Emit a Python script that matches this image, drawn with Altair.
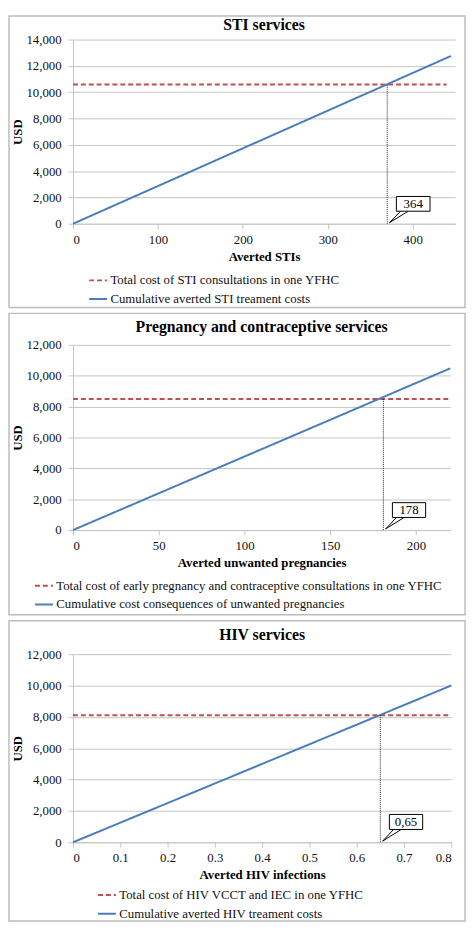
import altair as alt
import pandas as pd

FONT = "Liberation Serif"
RED = "#c0504d"
BLUE = "#4a7ebb"
GRID = "#c4c4c4"

# ---------------- data ----------------
sti_title = "STI services"
sti_xtitle = "Averted STIs"
sti_series = ["Total cost of STI consultations in one YFHC",
              "Cumulative averted STI treament costs"]
sti_cost_x = [0, 440]
sti_cost_y = [10580, 10580]
sti_cum_x = [0, 445]
sti_cum_y = [0, 12750]
sti_break_x = 370
sti_break_label = "364"
sti_xticks = [0, 100, 200, 300, 400]
sti_xmax = 450
sti_yticks = [0, 2000, 4000, 6000, 8000, 10000, 12000, 14000]

preg_title = "Pregnancy and contraceptive services"
preg_xtitle = "Averted unwanted pregnancies"
preg_series = ["Total cost of early pregnancy and contraceptive consultations in one YFHC",
               "Cumulative cost consequences of unwanted pregnancies"]
preg_cost_x = [0, 220]
preg_cost_y = [8500, 8500]
preg_cum_x = [0, 220]
preg_cum_y = [0, 10480]
preg_break_x = 181
preg_break_label = "178"
preg_xticks = [0, 50, 100, 150, 200]
preg_xmax = 220
preg_yticks = [0, 2000, 4000, 6000, 8000, 10000, 12000]

hiv_title = "HIV services"
hiv_xtitle = "Averted HIV infections"
hiv_series = ["Total cost of HIV VCCT and IEC in one YFHC",
              "Cumulative averted HIV treament costs"]
hiv_cost_x = [0, 0.8]
hiv_cost_y = [8100, 8100]
hiv_cum_x = [0, 0.8]
hiv_cum_y = [0, 10000]
hiv_break_x = 0.65
hiv_break_label = "0,65"
hiv_xticks = [0, 0.1, 0.2, 0.3, 0.4, 0.5, 0.6, 0.7, 0.8]
hiv_xmax = 0.8
hiv_yticks = [0, 2000, 4000, 6000, 8000, 10000, 12000]


def panel(title, xtitle, series, cost_x, cost_y, cum_x, cum_y, brk, brk_label,
          xticks, xmax, yticks, xfmt, w, h, frame_top, frame_bottom, legend_x, title_y):
    ymax = yticks[-1]
    lines = pd.DataFrame({
        "x": list(cost_x) + list(cum_x),
        "y": list(cost_y) + list(cum_y),
        "series": [series[0]] * len(cost_x) + [series[1]] * len(cum_x),
    })
    xs = alt.Scale(domain=[0, xmax], nice=False, zero=True)
    ys = alt.Scale(domain=[0, ymax], nice=False)
    xax = alt.Axis(values=xticks, format=xfmt, title=xtitle, grid=False,
                   labelFont=FONT, labelFontSize=13, labelColor="#111", labelOverlap=False,
                   titleFont=FONT, titleFontSize=13, titleFontWeight="bold", titleColor="#000",
                   domainColor=GRID, tickColor=GRID, tickSize=5, labelPadding=5, titlePadding=4)
    yax = alt.Axis(values=yticks, format=",.0f", title="USD", grid=True, gridColor=GRID,
                   labelFont=FONT, labelFontSize=13, labelColor="#111", labelOverlap=False,
                   titleFont=FONT, titleFontSize=13, titleFontWeight="bold", titleColor="#000",
                   domainColor=GRID, tickColor=GRID, tickSize=5, labelPadding=7, titlePadding=2)
    X = lambda f: alt.X(f, scale=xs, axis=xax)
    Y = lambda f: alt.Y(f, scale=ys, axis=yax)

    frame = alt.Chart(alt.Data(values=[{"f": 1}])).mark_rect(
        filled=False, stroke="#bcbcbc", strokeWidth=1.5
    ).encode(x=alt.value(-65), x2=alt.value(398),
             y=alt.value(frame_top), y2=alt.value(frame_bottom))

    ttl = alt.Chart(alt.Data(values=[{"f": 1}])).mark_text(
        font=FONT, fontSize=16, fontWeight="bold", color="#000", baseline="middle"
    ).encode(x=alt.value(w / 2), y=alt.value(title_y), text=alt.value(title))

    leg = alt.Legend(orient="none", legendX=legend_x, legendY=234, title=None,
                     direction="vertical", labelFont=FONT, labelFontSize=13,
                     labelColor="#111", labelLimit=600, symbolType="stroke",
                     symbolSize=330, symbolStrokeWidth=2, rowPadding=1, labelOffset=2,
                     padding=0)
    line = alt.Chart(lines).mark_line(strokeWidth=2).encode(
        x=X("x:Q"), y=Y("y:Q"),
        color=alt.Color("series:N", scale=alt.Scale(domain=series, range=[RED, BLUE]), legend=leg),
        strokeDash=alt.StrokeDash("series:N", scale=alt.Scale(domain=series, range=[[5, 3], [1, 0]]),
                                  legend=leg),
        detail="series:N",
    )

    cost_level = cost_y[0]
    rule = alt.Chart(pd.DataFrame({"x": [brk], "y0": [0], "y1": [cost_level]})).mark_rule(
        color="#222", strokeWidth=1, strokeDash=[1, 1]
    ).encode(x=X("x:Q"), y=Y("y0:Q"), y2="y1:Q")

    wedge = pd.DataFrame({
        "x": [brk + 0.035 * xmax, brk + 0.006 * xmax, brk + 0.055 * xmax],
        "y": [0.068 * ymax, 0.006 * ymax, 0.068 * ymax],
        "o": [0, 1, 2],
    })
    wedge_l = alt.Chart(wedge).mark_line(color="#000", strokeWidth=1).encode(
        x=X("x:Q"), y=Y("y:Q"), order="o:Q")

    box = alt.Chart(pd.DataFrame({
        "x0": [brk + 0.024 * xmax], "x1": [brk + 0.112 * xmax],
        "y0": [0.068 * ymax], "y1": [0.148 * ymax]})).mark_rect(
        fill="white", stroke="#000", strokeWidth=1
    ).encode(x=X("x0:Q"), x2="x1:Q", y=Y("y0:Q"), y2="y1:Q")

    lbl = alt.Chart(pd.DataFrame({"x": [brk + 0.068 * xmax], "y": [0.108 * ymax],
                                  "t": [brk_label]})).mark_text(
        font=FONT, fontSize=13, color="#000", baseline="middle", align="center"
    ).encode(x=X("x:Q"), y=Y("y:Q"), text="t:N")

    return alt.layer(frame, ttl, line, rule, wedge_l, box, lbl).properties(width=w, height=h)


p1 = panel(sti_title, sti_xtitle, sti_series, sti_cost_x, sti_cost_y, sti_cum_x, sti_cum_y,
           sti_break_x, sti_break_label, sti_xticks, sti_xmax, sti_yticks, "d",
           388, 187, -24, 272, 15, -15)
p2 = panel(preg_title, preg_xtitle, preg_series, preg_cost_x, preg_cost_y, preg_cum_x, preg_cum_y,
           preg_break_x, preg_break_label, preg_xticks, preg_xmax, preg_yticks, "d",
           383, 188, -32, 274, -40, -18)
p3 = panel(hiv_title, hiv_xtitle, hiv_series, hiv_cost_x, hiv_cost_y, hiv_cum_x, hiv_cum_y,
           hiv_break_x, hiv_break_label, hiv_xticks, hiv_xmax, hiv_yticks, ".1~f",
           384, 191, -34, 271, 24, -19)

chart = alt.vconcat(p1, p2, p3, spacing=4).resolve_scale(
    color="independent", strokeDash="independent", x="independent", y="independent"
).resolve_legend(color="independent", strokeDash="independent").properties(
    padding={"left": 0, "top": 0, "right": 0, "bottom": 0}
).configure_view(stroke=None)

chart.save("out.html", embed_options={"renderer": "svg", "actions": False})
